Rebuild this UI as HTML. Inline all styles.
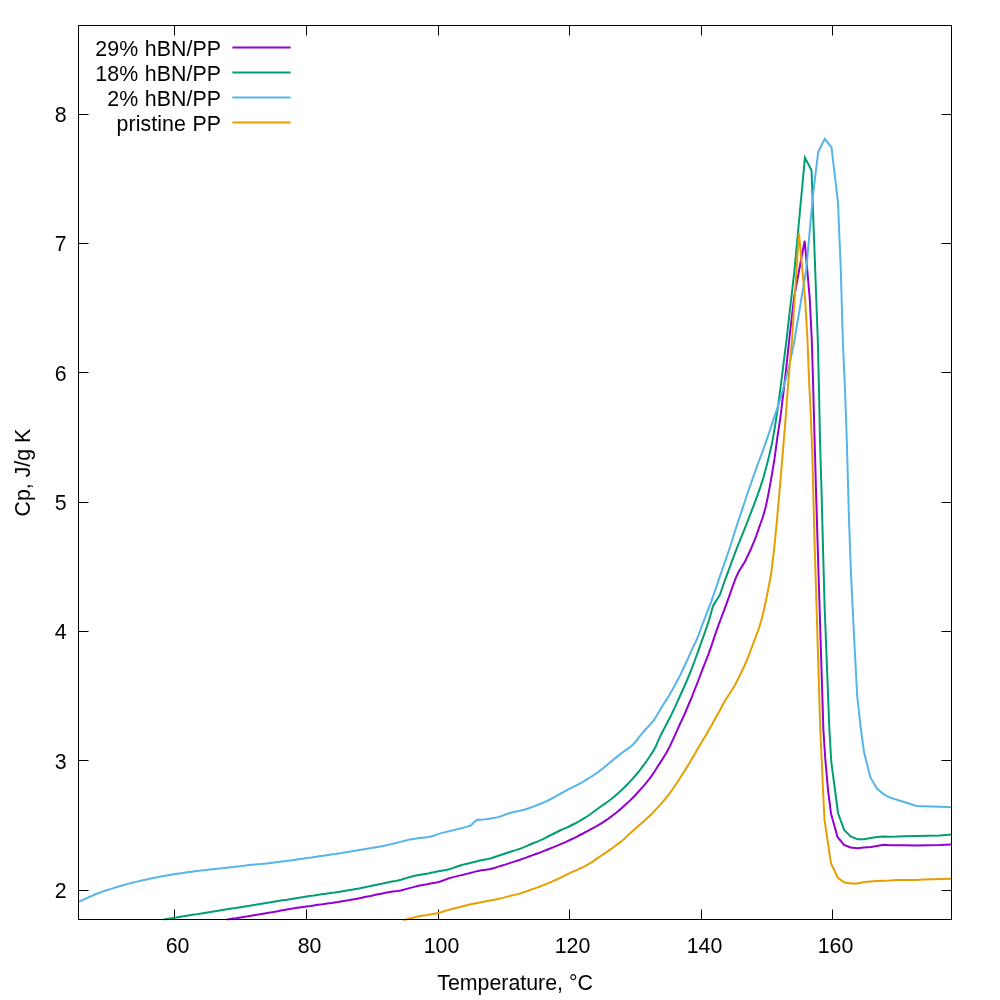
<!DOCTYPE html>
<html lang="en"><head><meta charset="utf-8"><title>Cp vs Temperature</title>
<style>
html,body{margin:0;padding:0;background:#fff;}
body{width:1000px;height:1000px;overflow:hidden;}
svg{display:block;}
text{font-family:"Liberation Sans",sans-serif;font-size:21.33px;fill:#000;}
.c{fill:none;stroke-width:2;stroke-linejoin:miter;stroke-miterlimit:4;stroke-linecap:butt;}
</style></head><body>
<svg width="1000" height="1000" viewBox="0 0 1000 1000">
<rect width="1000" height="1000" fill="#fff"/>
<defs><clipPath id="pc"><rect x="78.5" y="25.5" width="873.0" height="895.2"/></clipPath></defs>
<text x="177.5" y="952.6" text-anchor="middle">60</text>
<text x="309.5" y="952.6" text-anchor="middle">80</text>
<text x="441.5" y="952.6" text-anchor="middle">100</text>
<text x="572.5" y="952.6" text-anchor="middle">120</text>
<text x="704.5" y="952.6" text-anchor="middle">140</text>
<text x="835.5" y="952.6" text-anchor="middle">160</text>
<text x="66.5" y="898.1" text-anchor="end">2</text>
<text x="66.5" y="768.8" text-anchor="end">3</text>
<text x="66.5" y="639.4" text-anchor="end">4</text>
<text x="66.5" y="510.1" text-anchor="end">5</text>
<text x="66.5" y="380.8" text-anchor="end">6</text>
<text x="66.5" y="251.4" text-anchor="end">7</text>
<text x="66.5" y="122.1" text-anchor="end">8</text>
<text x="515.1" y="990.4" text-anchor="middle">Temperature, °C</text>
<text transform="translate(30,472.6) rotate(-90)" text-anchor="middle">Cp, J/g K</text>
<text x="221.2" y="56.0" text-anchor="end" style="word-spacing:0.6px;letter-spacing:0.08px">29% hBN/PP</text>
<path class="c" stroke="#9400D3" d="M232.4,47.5 H290.6"/>
<text x="221.2" y="81.0" text-anchor="end" style="word-spacing:0.6px;letter-spacing:0.08px">18% hBN/PP</text>
<path class="c" stroke="#009E73" d="M232.4,72.5 H290.6"/>
<text x="221.2" y="106.0" text-anchor="end" style="word-spacing:0.6px;letter-spacing:0.08px">2% hBN/PP</text>
<path class="c" stroke="#56B4E9" d="M232.4,97.5 H290.6"/>
<text x="221.2" y="131.0" text-anchor="end" style="word-spacing:0.6px;letter-spacing:0.08px">pristine PP</text>
<path class="c" stroke="#E69F00" d="M232.4,122.5 H290.6"/>
<path d="M174.5,919.5 V909.5 M174.5,25.5 V35.5 M306.5,919.5 V909.5 M306.5,25.5 V35.5 M438.5,919.5 V909.5 M438.5,25.5 V35.5 M569.5,919.5 V909.5 M569.5,25.5 V35.5 M701.5,919.5 V909.5 M701.5,25.5 V35.5 M832.5,919.5 V909.5 M832.5,25.5 V35.5 M78.5,114.5 H88.5 M951.5,114.5 H941.5 M78.5,243.5 H88.5 M951.5,243.5 H941.5 M78.5,372.5 H88.5 M951.5,372.5 H941.5 M78.5,502.5 H88.5 M951.5,502.5 H941.5 M78.5,631.5 H88.5 M951.5,631.5 H941.5 M78.5,760.5 H88.5 M951.5,760.5 H941.5 M78.5,890.5 H88.5 M951.5,890.5 H941.5" fill="none" stroke="#000" stroke-width="1"/>
<g clip-path="url(#pc)">
<path class="c" stroke="#9400D3" d="M227.0,919.5 L230.0,919.1 L233.0,918.6 L236.0,918.2 L239.0,917.7 L242.0,917.2 L244.9,916.7 L247.9,916.3 L250.9,915.8 L253.9,915.3 L256.9,914.8 L259.9,914.3 L262.9,913.8 L265.9,913.3 L268.9,912.8 L271.9,912.3 L274.9,911.7 L277.9,911.2 L280.8,910.6 L283.8,910.1 L286.8,909.5 L289.8,909.0 L292.8,908.6 L295.8,908.1 L298.8,907.6 L301.8,907.2 L304.8,906.8 L307.8,906.3 L310.8,905.9 L313.7,905.4 L316.7,905.0 L319.7,904.6 L322.7,904.2 L325.7,903.7 L328.7,903.3 L331.7,902.9 L334.7,902.4 L337.7,902.0 L340.7,901.5 L343.7,901.0 L346.6,900.6 L349.6,900.1 L352.6,899.5 L355.6,899.0 L358.6,898.4 L361.6,897.8 L364.6,897.1 L367.6,896.5 L370.6,895.9 L373.6,895.2 L376.6,894.6 L379.6,894.0 L382.5,893.4 L385.5,892.8 L388.5,892.3 L391.5,891.8 L394.5,891.3 L397.5,890.9 L400.5,890.4 L403.5,889.7 L406.5,888.9 L409.5,888.1 L412.5,887.4 L415.4,886.6 L418.4,885.8 L421.4,885.2 L424.4,884.7 L427.4,884.2 L430.4,883.6 L433.4,883.0 L436.4,882.4 L439.4,881.7 L442.4,880.8 L445.4,879.6 L448.4,878.5 L451.3,877.6 L454.3,876.9 L457.3,876.1 L460.3,875.4 L463.3,874.7 L466.3,873.9 L469.3,873.2 L472.3,872.4 L475.3,871.6 L478.3,870.9 L481.3,870.3 L484.2,869.9 L487.2,869.5 L490.2,869.0 L493.2,868.2 L496.2,867.4 L499.2,866.4 L502.2,865.5 L505.2,864.6 L508.2,863.6 L511.2,862.6 L514.2,861.6 L517.1,860.7 L520.1,859.7 L523.1,858.6 L526.1,857.6 L529.1,856.5 L532.1,855.4 L535.1,854.3 L538.1,853.2 L541.1,852.1 L544.1,850.9 L547.1,849.7 L550.1,848.5 L553.0,847.3 L556.0,846.1 L559.0,844.9 L562.0,843.6 L565.0,842.3 L568.0,840.9 L571.0,839.5 L574.0,838.1 L577.0,836.6 L580.0,835.0 L583.0,833.5 L585.9,831.9 L588.9,830.3 L591.9,828.7 L594.9,827.1 L597.9,825.4 L600.9,823.6 L603.9,821.7 L606.9,819.7 L609.9,817.6 L612.9,815.3 L615.9,813.0 L618.9,810.5 L621.8,807.9 L624.8,805.3 L627.8,802.6 L630.8,799.7 L633.8,796.7 L636.8,793.5 L639.8,790.2 L642.8,786.9 L645.8,783.3 L648.8,779.6 L651.8,775.6 L654.7,771.2 L657.7,766.5 L660.7,761.9 L663.7,757.2 L666.7,752.3 L669.7,746.6 L672.7,740.2 L675.7,733.7 L678.7,726.9 L681.7,720.3 L684.7,713.8 L687.6,707.0 L690.6,700.0 L693.6,692.5 L696.6,684.8 L699.6,677.0 L702.6,669.2 L705.6,661.5 L708.6,653.8 L711.6,645.3 L714.6,636.3 L717.6,627.7 L720.6,619.5 L723.5,611.8 L726.5,603.8 L729.5,595.3 L732.5,586.8 L735.5,578.7 L738.5,572.0 L745.0,561.5 L747.9,555.5 L750.9,549.0 L753.8,542.2 L756.8,534.3 L759.7,525.8 L762.7,517.5 L765.6,507.5 L768.6,493.1 L771.5,477.0 L774.5,458.9 L777.4,437.1 L780.4,417.3 L783.3,393.7 L786.3,367.5 L789.2,340.0 L794.0,298.0 L801.2,259.0 L804.7,240.8 L809.7,298.0 L811.8,340.0 L813.0,380.0 L814.6,440.0 L816.0,490.0 L817.5,540.0 L823.4,730.0 L825.2,758.0 L828.0,790.0 L831.0,813.5 L837.5,837.0 L844.0,845.0 L850.5,847.5 L857.5,848.2 L864.0,847.5 L871.0,847.0 L877.0,846.0 L883.5,844.8 L890.0,845.2 L904.0,845.3 L916.0,845.6 L940.0,845.0 L951.5,844.4"/>
<path class="c" stroke="#009E73" d="M164.0,919.5 L167.0,919.0 L170.0,918.5 L173.0,918.0 L176.0,917.6 L179.0,917.1 L182.0,916.6 L185.0,916.1 L188.0,915.6 L191.0,915.1 L194.0,914.6 L197.0,914.2 L200.0,913.7 L203.0,913.2 L206.0,912.7 L209.0,912.2 L212.0,911.7 L215.0,911.2 L218.0,910.8 L221.0,910.3 L224.0,909.8 L227.0,909.3 L230.0,908.8 L233.0,908.3 L236.0,907.9 L239.0,907.4 L242.0,906.9 L245.0,906.4 L248.0,905.9 L251.0,905.5 L254.0,905.0 L257.0,904.5 L260.0,904.0 L263.0,903.5 L266.0,903.0 L269.0,902.6 L272.0,902.1 L275.0,901.6 L278.0,901.1 L281.0,900.6 L284.0,900.1 L287.0,899.7 L290.0,899.2 L293.0,898.7 L296.0,898.2 L299.0,897.7 L302.0,897.3 L305.0,896.8 L308.0,896.3 L311.0,895.8 L314.0,895.4 L317.0,894.9 L320.0,894.5 L323.0,894.1 L326.0,893.7 L329.0,893.2 L332.0,892.8 L335.0,892.4 L338.0,891.9 L341.0,891.5 L344.0,891.0 L347.0,890.5 L350.0,890.0 L353.0,889.5 L356.0,888.9 L359.0,888.4 L362.0,887.8 L365.0,887.2 L368.0,886.6 L371.0,885.9 L374.0,885.3 L377.0,884.7 L380.0,884.1 L383.0,883.4 L386.0,882.8 L389.0,882.2 L392.0,881.6 L395.0,881.1 L398.0,880.5 L401.0,879.7 L404.0,878.8 L407.0,877.9 L410.0,877.0 L413.0,876.3 L416.0,875.6 L419.0,875.0 L422.0,874.4 L425.0,873.9 L428.0,873.4 L431.0,872.8 L434.0,872.2 L437.0,871.6 L440.0,871.0 L443.0,870.4 L446.0,869.9 L449.0,869.2 L452.0,868.4 L455.0,867.3 L458.0,866.2 L461.0,865.2 L464.0,864.4 L467.0,863.7 L470.0,863.0 L473.0,862.2 L476.0,861.5 L479.0,860.7 L482.0,860.1 L485.0,859.5 L488.0,859.0 L491.0,858.2 L494.0,857.3 L497.0,856.3 L500.0,855.3 L503.0,854.3 L506.0,853.3 L509.0,852.3 L512.0,851.3 L515.0,850.4 L518.0,849.4 L521.0,848.4 L524.0,847.2 L527.0,845.8 L530.0,844.5 L533.0,843.3 L536.0,842.1 L539.0,840.9 L542.0,839.6 L545.0,838.1 L548.0,836.5 L551.0,835.0 L554.0,833.5 L557.0,832.0 L560.0,830.5 L563.0,829.1 L566.0,827.8 L569.0,826.5 L572.0,825.0 L575.0,823.5 L578.0,821.8 L581.0,820.1 L584.0,818.3 L587.0,816.5 L590.0,814.5 L593.0,812.3 L596.0,810.0 L599.0,807.7 L602.0,805.6 L605.0,803.6 L608.0,801.5 L611.0,799.2 L614.0,796.8 L617.0,794.2 L620.0,791.5 L623.0,788.7 L626.0,785.7 L629.0,782.6 L632.0,779.3 L635.0,776.0 L638.0,772.5 L641.0,768.7 L644.0,764.7 L647.0,760.5 L650.0,756.0 L653.0,751.4 L656.0,746.0 L659.0,738.9 L662.0,732.8 L665.0,727.0 L668.0,721.3 L671.0,715.5 L674.0,709.1 L677.0,702.6 L680.0,696.0 L683.0,689.5 L686.0,682.7 L689.0,675.5 L692.0,667.9 L695.0,660.0 L698.0,651.7 L701.0,643.1 L704.0,634.8 L707.0,626.3 L710.0,617.0 L713.0,606.0 L720.0,594.5 L722.9,586.0 L725.8,577.8 L728.7,570.1 L731.6,562.2 L734.5,554.4 L737.3,547.1 L740.2,539.9 L743.1,532.7 L746.0,525.4 L748.9,517.8 L751.8,510.3 L754.7,502.8 L757.6,494.9 L760.5,486.6 L763.4,477.6 L766.3,467.1 L769.2,455.5 L772.0,443.3 L774.9,426.8 L777.8,408.2 L780.7,386.4 L783.6,363.1 L786.5,340.0 L794.5,270.0 L804.9,157.6 L811.5,170.2 L815.2,270.0 L817.8,340.0 L819.0,390.0 L820.0,440.0 L821.5,490.0 L822.8,540.0 L824.6,606.0 L829.4,730.0 L831.3,762.0 L835.0,790.0 L838.0,813.0 L844.2,830.0 L850.6,836.5 L857.5,839.3 L864.0,839.2 L870.5,838.0 L877.0,837.0 L883.5,836.5 L890.0,836.8 L897.0,836.6 L904.0,836.2 L916.0,836.0 L940.0,835.4 L951.5,834.6"/>
<path class="c" stroke="#56B4E9" d="M78.5,901.8 L96.0,894.0 L99.0,892.9 L102.0,891.9 L105.0,890.8 L108.0,889.8 L111.0,888.9 L114.0,887.9 L117.0,887.0 L120.0,886.1 L122.9,885.3 L125.9,884.4 L128.9,883.6 L131.9,882.8 L134.9,882.1 L137.9,881.4 L140.9,880.7 L143.9,880.0 L146.9,879.4 L149.9,878.7 L152.9,878.1 L155.9,877.5 L158.9,876.9 L161.9,876.3 L164.9,875.8 L167.9,875.3 L170.9,874.8 L173.8,874.3 L176.8,873.8 L179.8,873.4 L182.8,873.0 L185.8,872.5 L188.8,872.1 L191.8,871.7 L194.8,871.3 L197.8,870.9 L200.8,870.6 L203.8,870.2 L206.8,869.9 L209.8,869.5 L212.8,869.2 L215.8,868.9 L218.8,868.6 L221.7,868.3 L224.7,867.9 L227.7,867.6 L230.7,867.2 L233.7,866.9 L236.7,866.5 L239.7,866.2 L242.7,865.8 L245.7,865.5 L248.7,865.1 L251.7,864.8 L254.7,864.5 L257.7,864.2 L260.7,864.0 L263.7,863.7 L266.7,863.4 L269.7,863.0 L272.6,862.7 L275.6,862.3 L278.6,862.0 L281.6,861.6 L284.6,861.2 L287.6,860.8 L290.6,860.4 L293.6,859.9 L296.6,859.5 L299.6,859.1 L302.6,858.7 L305.6,858.2 L308.6,857.8 L311.6,857.4 L314.6,856.9 L317.6,856.5 L320.6,856.1 L323.5,855.7 L326.5,855.2 L329.5,854.8 L332.5,854.3 L335.5,853.9 L338.5,853.4 L341.5,853.0 L344.5,852.5 L347.5,852.0 L350.5,851.5 L353.5,851.0 L356.5,850.6 L359.5,850.1 L362.5,849.6 L365.5,849.1 L368.5,848.6 L371.4,848.1 L374.4,847.5 L377.4,847.0 L380.4,846.4 L383.4,845.9 L386.4,845.3 L389.4,844.6 L392.4,843.9 L395.4,843.2 L398.4,842.4 L401.4,841.6 L404.4,840.8 L407.4,840.1 L410.4,839.4 L413.4,838.9 L416.4,838.5 L419.4,838.1 L422.3,837.7 L425.3,837.4 L428.3,837.1 L431.3,836.5 L434.3,835.5 L437.3,834.4 L440.3,833.4 L443.3,832.6 L446.3,831.9 L449.3,831.2 L452.3,830.4 L455.3,829.7 L458.3,828.9 L461.3,828.2 L464.3,827.4 L467.3,826.6 L470.2,825.8 L477.0,819.8 L480.0,819.7 L483.0,819.5 L486.0,819.2 L489.0,818.8 L492.0,818.3 L495.0,817.8 L498.0,817.1 L501.0,816.2 L504.0,815.1 L507.0,814.0 L509.9,813.0 L512.9,812.3 L515.9,811.6 L518.9,811.0 L521.9,810.3 L524.9,809.5 L527.9,808.5 L530.9,807.5 L533.9,806.4 L536.9,805.2 L539.9,804.0 L542.9,802.8 L545.9,801.5 L548.9,800.0 L551.9,798.5 L554.9,796.9 L557.9,795.2 L560.9,793.5 L563.9,791.9 L566.9,790.2 L569.9,788.6 L572.8,787.1 L575.8,785.6 L578.8,784.1 L581.8,782.5 L584.8,780.7 L587.8,778.9 L590.8,777.0 L593.8,775.0 L596.8,773.0 L599.8,770.8 L602.8,768.5 L605.8,766.0 L608.8,763.5 L611.8,761.0 L614.8,758.5 L617.8,756.1 L620.8,753.7 L623.8,751.5 L626.8,749.4 L629.8,747.2 L632.8,744.7 L635.8,741.5 L638.7,737.7 L641.7,733.9 L644.7,730.5 L647.7,727.2 L650.7,723.9 L653.7,720.4 L656.7,715.7 L659.7,710.5 L662.7,705.6 L665.7,700.9 L668.7,696.2 L671.7,691.0 L674.7,685.6 L677.7,680.0 L680.7,674.1 L683.7,667.8 L686.7,661.4 L689.7,654.7 L692.7,647.9 L695.7,642.0 L698.7,634.8 L701.6,626.7 L704.6,618.9 L707.6,611.2 L710.6,603.3 L713.6,594.9 L716.6,586.2 L719.6,577.1 L722.6,568.7 L725.6,560.2 L728.6,551.2 L731.6,542.2 L734.6,532.3 L737.6,523.1 L740.6,514.2 L743.6,505.3 L746.6,496.2 L749.6,487.3 L752.6,478.8 L755.6,470.4 L758.6,462.0 L761.6,454.0 L764.5,446.2 L767.5,437.5 L770.5,428.5 L773.5,419.4 L776.5,410.5 L779.5,401.5 L782.5,391.3 L785.5,380.0 L788.5,368.3 L791.5,355.1 L794.5,340.0 L806.2,270.0 L813.0,195.0 L818.2,152.0 L824.7,138.8 L831.5,147.3 L838.0,202.5 L840.8,270.0 L842.8,340.0 L845.0,390.0 L846.8,440.0 L849.0,520.0 L849.4,530.0 L850.9,572.0 L854.0,635.0 L857.2,696.0 L861.0,730.0 L864.0,752.0 L870.4,777.4 L877.0,788.6 L884.0,794.4 L890.0,797.6 L904.0,802.0 L916.6,806.0 L940.0,806.8 L951.5,807.2"/>
<path class="c" stroke="#E69F00" d="M403.0,920.5 L406.0,919.6 L409.0,918.8 L412.0,918.0 L415.0,917.2 L418.0,916.4 L421.0,915.8 L423.9,915.4 L426.9,915.0 L429.9,914.5 L432.9,914.0 L435.9,913.4 L438.9,912.8 L441.9,912.0 L444.9,911.0 L447.9,910.1 L450.9,909.3 L453.9,908.5 L456.9,907.8 L459.9,907.0 L462.8,906.3 L465.8,905.5 L468.8,904.8 L471.8,904.1 L474.8,903.5 L477.8,902.9 L480.8,902.3 L483.8,901.7 L486.8,901.1 L489.8,900.5 L492.8,900.0 L495.8,899.4 L498.8,898.8 L501.7,898.1 L504.7,897.4 L507.7,896.6 L510.7,895.8 L513.7,895.1 L516.7,894.4 L519.7,893.6 L522.7,892.6 L525.7,891.6 L528.7,890.5 L531.7,889.4 L534.7,888.4 L537.7,887.4 L540.6,886.3 L543.6,885.1 L546.6,883.9 L549.6,882.7 L552.6,881.4 L555.6,880.0 L558.6,878.7 L561.6,877.2 L564.6,875.7 L567.6,874.2 L570.6,872.7 L573.6,871.4 L576.6,870.1 L579.5,868.7 L582.5,867.3 L585.5,865.8 L588.5,864.2 L591.5,862.3 L594.5,860.3 L597.5,858.2 L600.5,856.2 L603.5,854.1 L606.5,852.1 L609.5,850.1 L612.5,848.0 L615.5,845.8 L618.4,843.6 L621.4,841.3 L624.4,838.8 L627.4,835.9 L630.4,833.1 L633.4,830.4 L636.4,827.7 L639.4,825.0 L642.4,822.4 L645.4,819.8 L648.4,817.0 L651.4,814.2 L654.4,811.1 L657.3,807.9 L660.3,804.6 L663.3,801.2 L666.3,797.7 L669.3,793.9 L672.3,789.8 L675.3,785.3 L678.3,780.7 L681.3,776.0 L684.3,771.3 L687.3,766.5 L690.3,761.6 L693.3,756.5 L696.2,751.4 L699.2,746.3 L702.2,741.3 L705.2,736.2 L708.2,731.1 L711.2,725.9 L714.2,720.4 L717.2,715.1 L720.2,709.7 L723.2,704.0 L726.2,698.7 L729.2,694.3 L732.2,689.7 L735.1,684.7 L738.1,678.9 L741.1,672.7 L744.1,666.5 L747.1,659.5 L750.1,651.8 L753.1,643.8 L756.1,635.8 L759.1,627.8 L762.1,617.5 L765.1,604.7 L768.1,589.7 L771.1,574.0 L774.0,550.2 L777.0,519.6 L780.0,486.0 L783.0,449.9 L786.0,413.4 L789.0,373.0 L792.0,340.0 L794.7,298.0 L798.9,233.0 L805.0,298.0 L807.5,340.0 L809.0,380.0 L810.5,410.0 L811.8,440.0 L813.0,480.0 L814.5,540.0 L820.3,730.0 L821.7,760.0 L823.0,790.0 L824.5,820.0 L831.0,863.5 L838.0,878.0 L844.5,882.5 L851.0,883.5 L857.5,883.5 L864.0,882.0 L877.0,881.0 L890.0,880.5 L897.0,880.0 L916.0,880.0 L924.0,879.4 L951.5,878.8"/>
</g>
<rect x="78.5" y="25.5" width="873.0" height="894.0" fill="none" stroke="#000" stroke-width="1"/>
</svg></body></html>
